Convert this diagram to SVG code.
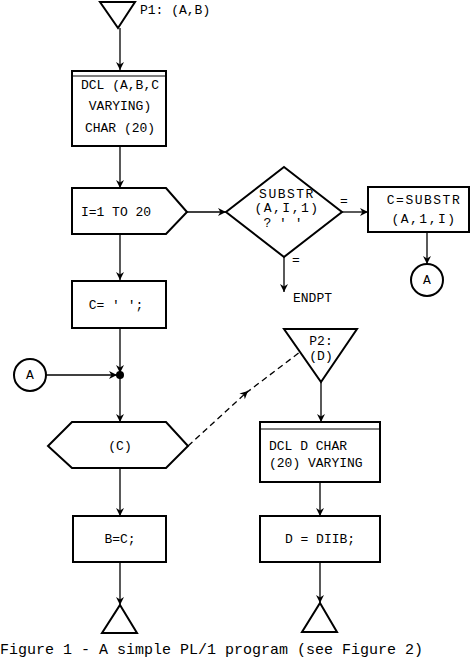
<svg xmlns="http://www.w3.org/2000/svg" width="474" height="659" viewBox="0 0 474 659">
<defs>
<marker id="ah" viewBox="0 0 10 10" refX="10" refY="5" markerWidth="10" markerHeight="8" markerUnits="userSpaceOnUse" orient="auto">
<path d="M0,0 L10,5 L0,10 L3,5 Z" fill="#000"/>
</marker>
<style>
.s{fill:#fff;stroke:#000;stroke-width:2}
.c{fill:none;stroke:#000;stroke-width:1.3}
.d{fill:none;stroke:#000;stroke-width:1.3;stroke-dasharray:6,4}
text{font-family:"Liberation Mono","DejaVu Sans Mono",monospace;font-size:13px;fill:#000}
.m{text-anchor:middle}
.w{letter-spacing:1.5px}
</style>
</defs>
<rect width="474" height="659" fill="#fff"/>
<g id="connectors">
<path class="c" d="M120,28 V70" marker-end="url(#ah)"/>
<path class="c" d="M120,146 V188" marker-end="url(#ah)"/>
<path class="c" d="M187,212 H226" marker-end="url(#ah)"/>
<path class="c" d="M342,212 H368" marker-end="url(#ah)"/>
<path class="c" d="M284,257 V292" marker-end="url(#ah)"/>
<path class="c" d="M427,232 V264" marker-end="url(#ah)"/>
<path class="c" d="M120,234 V280" marker-end="url(#ah)"/>
<path class="c" d="M120,328 V373" marker-end="url(#ah)"/>
<path class="c" d="M46,375 H117" marker-end="url(#ah)"/>
<path class="c" d="M120,375 V422" marker-end="url(#ah)"/>
<path class="d" d="M188,446 L248,391" marker-end="url(#ah)"/>
<path class="d" d="M246,393 L300,352"/>
<path class="c" d="M321,382 V422" marker-end="url(#ah)"/>
<path class="c" d="M320,482 V516" marker-end="url(#ah)"/>
<path class="c" d="M120,468 V516" marker-end="url(#ah)"/>
<path class="c" d="M120,562 V605" marker-end="url(#ah)"/>
<path class="c" d="M320,562 V603" marker-end="url(#ah)"/>
<circle cx="120" cy="375" r="4" fill="#000"/>
<text x="340" y="205">=</text>
<text x="292" y="264">=</text>
<text x="293" y="302">ENDPT</text>
</g>
<g id="p1">
<path class="s" d="M100,2 H135 L118,28 Z"/>
<text x="140" y="14">P1: (A,B)</text>
</g>
<g id="dcl1">
<rect class="s" x="72" y="71" width="94" height="75"/>
<line x1="72" y1="76" x2="166" y2="76" stroke="#000" stroke-width="1"/>
<text class="m" x="120" y="89">DCL (A,B,C</text>
<text class="m" x="120" y="110">VARYING)</text>
<text class="m" x="120" y="132">CHAR (20)</text>
</g>
<g id="loop">
<path class="s" d="M72,188 H166 L187,212 L166,234 H72 Z"/>
<text class="m" x="116" y="216">I=1 TO 20</text>
</g>
<g id="decision">
<path class="s" d="M284,167 L342,212 L284,257 L226,212 Z"/>
<text class="m w" x="287" y="198">SUBSTR</text>
<text class="m w" x="287" y="212">(A,I,1)</text>
<text class="m" x="283" y="227">? ' '</text>
</g>
<g id="csubstr">
<rect class="s" x="368" y="187" width="101" height="45"/>
<text class="m w" x="424" y="204">C=SUBSTR</text>
<text class="m w" x="424" y="223">(A,1,I)</text>
</g>
<g id="conA1">
<circle class="s" cx="427" cy="280" r="16"/>
<text class="m" x="427" y="284">A</text>
</g>
<g id="cblank">
<rect class="s" x="72" y="281" width="94" height="47"/>
<text class="m" x="116" y="309">C= ' ';</text>
</g>
<g id="conA2">
<circle class="s" cx="30" cy="375" r="16"/>
<text class="m" x="30" y="379">A</text>
</g>
<g id="hexC">
<path class="s" d="M48,446 L72,422 H166 L188,446 L166,468 H72 Z"/>
<text class="m" x="120" y="450">(C)</text>
</g>
<g id="p2">
<path class="s" d="M284,329 H357 L321,382 Z"/>
<text class="m" x="321" y="345">P2:</text>
<text class="m" x="321" y="360">(D)</text>
</g>
<g id="dcl2">
<rect class="s" x="260" y="422" width="120" height="60"/>
<line x1="260" y1="429" x2="380" y2="429" stroke="#000" stroke-width="1"/>
<text x="269" y="450">DCL D CHAR</text>
<text x="269" y="467">(20) VARYING</text>
</g>
<g id="bc">
<rect class="s" x="73" y="516" width="93" height="46"/>
<text class="m" x="120" y="543">B=C;</text>
</g>
<g id="ddiib">
<rect class="s" x="260" y="516" width="120" height="46"/>
<text class="m" x="320" y="543">D = DIIB;</text>
</g>
<g id="end1">
<path class="s" d="M120,605 L137,633 H102 Z"/>
</g>
<g id="end2">
<path class="s" d="M320,603 L337,632 H302 Z"/>
</g>
<text x="0" y="654" style="font-size:15px">Figure 1 - A simple PL/1 program (see Figure 2)</text>
</svg>
